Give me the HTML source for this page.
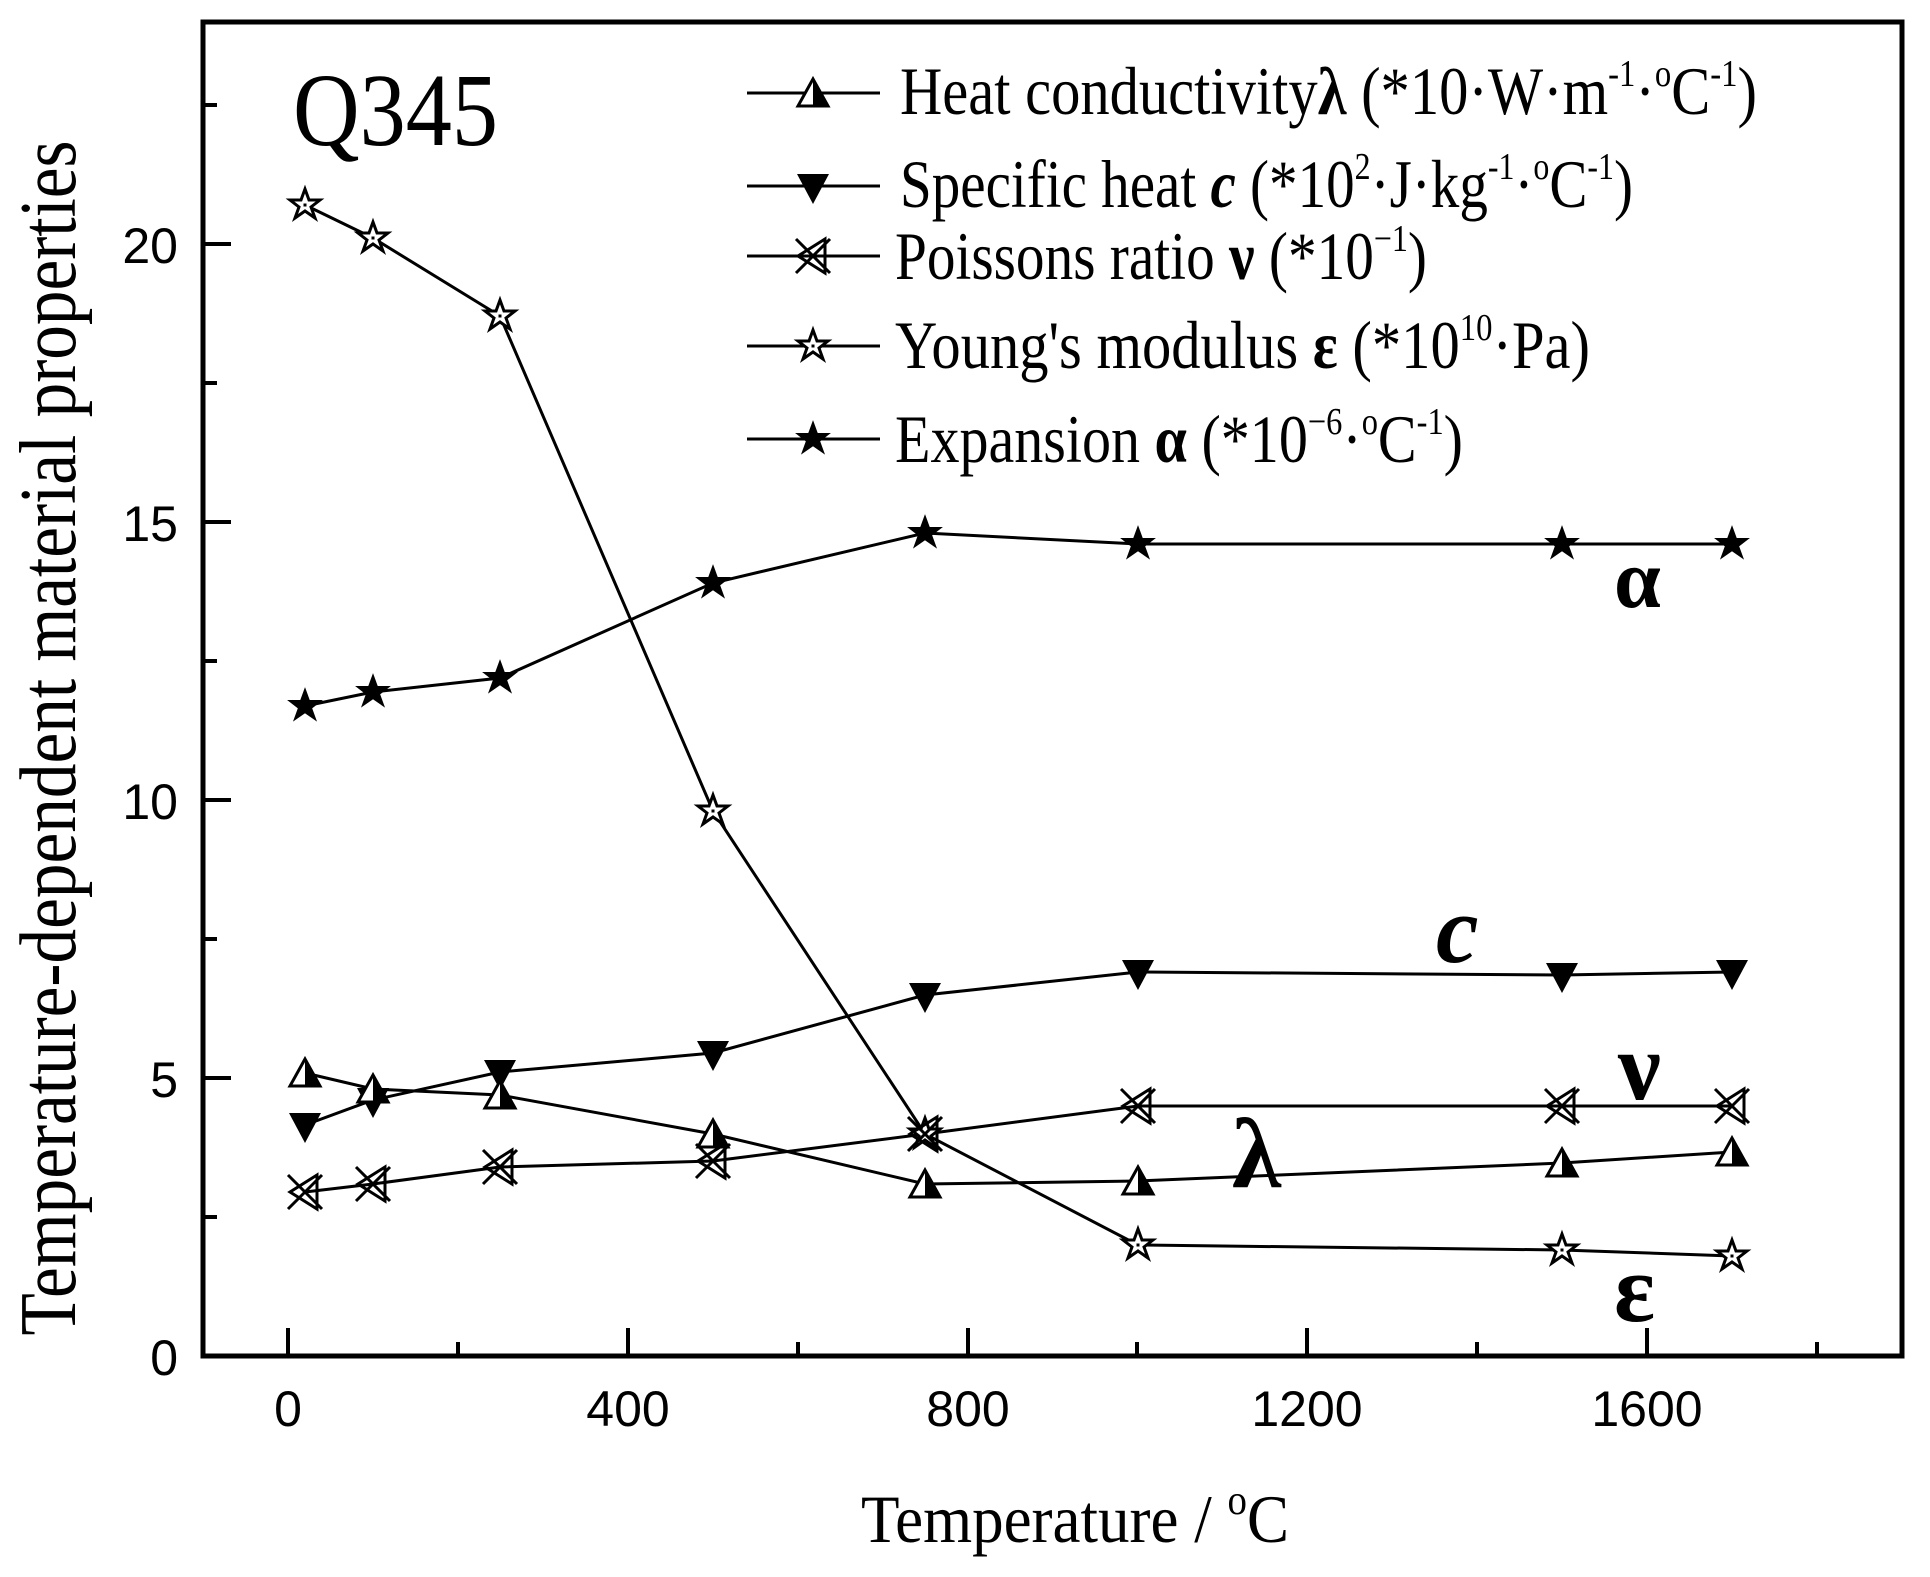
<!DOCTYPE html>
<html><head><meta charset="utf-8"><style>html,body{margin:0;padding:0;background:#fff}svg{display:block}</style></head>
<body>
<svg width="1930" height="1577" viewBox="0 0 1930 1577" xmlns="http://www.w3.org/2000/svg" font-family="'Liberation Serif', serif">
<defs>
<g id="tri"><polygon points="0,-14 -15,13 15,13" fill="#fff" stroke="#000" stroke-width="3"/><polygon points="0,-14 0,13 15,13" fill="#000"/></g>
<g id="dtri"><polygon points="-16,-15 16,-15 0,15" fill="#000"/></g>
<g id="xm"><path d="M-17,-17 L17,17 M-17,17 L17,-17 M12,-17 L-15,0 L12,17 Z" fill="none" stroke="#000" stroke-width="3"/></g>
<g id="ost"><polygon points="0,-16 4,-5 15,-5 6,2 10,13 0,6 -10,13 -6,2 -15,-5 -4,-5" fill="#fff" stroke="#000" stroke-width="3" stroke-linejoin="miter"/><rect x="-1.5" y="-1.5" width="3" height="3" fill="#000"/></g>
<g id="fst"><polygon points="0,-16 4,-5 15,-5 6,2 10,13 0,6 -10,13 -6,2 -15,-5 -4,-5" fill="#000" stroke="#000" stroke-width="2"/></g>
</defs>
<rect x="203" y="22" width="1699" height="1334" fill="none" stroke="#000" stroke-width="5"/>
<g stroke="#000" stroke-width="4">
<line x1="203" y1="1356" x2="231" y2="1356"/><line x1="203" y1="1217" x2="217" y2="1217"/>
<line x1="203" y1="1078" x2="231" y2="1078"/><line x1="203" y1="939" x2="217" y2="939"/>
<line x1="203" y1="800" x2="231" y2="800"/><line x1="203" y1="661" x2="217" y2="661"/>
<line x1="203" y1="522" x2="231" y2="522"/><line x1="203" y1="383" x2="217" y2="383"/>
<line x1="203" y1="244" x2="231" y2="244"/><line x1="203" y1="105" x2="217" y2="105"/>
<line x1="288" y1="1356" x2="288" y2="1328"/><line x1="458" y1="1356" x2="458" y2="1342"/>
<line x1="628" y1="1356" x2="628" y2="1328"/><line x1="798" y1="1356" x2="798" y2="1342"/>
<line x1="968" y1="1356" x2="968" y2="1328"/><line x1="1137" y1="1356" x2="1137" y2="1342"/>
<line x1="1307" y1="1356" x2="1307" y2="1328"/><line x1="1477" y1="1356" x2="1477" y2="1342"/>
<line x1="1647" y1="1356" x2="1647" y2="1328"/><line x1="1817" y1="1356" x2="1817" y2="1342"/>
</g>
<g font-family="'Liberation Sans', sans-serif" font-size="50" fill="#000">
<g text-anchor="end">
<text x="178" y="1375">0</text><text x="178" y="1097">5</text><text x="178" y="819">10</text><text x="178" y="541">15</text><text x="178" y="263">20</text>
</g>
<g text-anchor="middle">
<text x="288" y="1426">0</text><text x="628" y="1426">400</text><text x="968" y="1426">800</text><text x="1307" y="1426">1200</text><text x="1647" y="1426">1600</text>
</g>
</g>
<text transform="translate(75,738) rotate(-90)" text-anchor="middle" font-size="80" textLength="1195" lengthAdjust="spacingAndGlyphs">Temperature-dependent material properties</text>
<text x="861" y="1542" font-size="68" textLength="428" lengthAdjust="spacingAndGlyphs">Temperature / <tspan font-size="42" dy="-28">o</tspan><tspan dy="28">C</tspan></text>
<text x="293" y="145" font-size="104" textLength="205" lengthAdjust="spacingAndGlyphs">Q345</text>

<g fill="none" stroke="#000" stroke-width="3">
<polyline points="305,205 373,238 500,316 713,811 925,1134 1138,1245 1562,1250 1732,1256"/>
<polyline points="305,706 373,692 500,678 713,583 925,533 1138,544 1562,544 1732,544"/>
<polyline points="305,1125 373,1100 500,1072 713,1053 925,995 1138,972 1562,975 1732,972"/>
<polyline points="305,1192 373,1184 500,1167 713,1161 925,1134 1138,1106 1562,1106 1732,1106"/>
<polyline points="305,1073 373,1089 500,1095 713,1134 925,1184 1138,1181 1562,1163 1732,1152"/>
</g>
<g>
<use href="#ost" x="305" y="205"/><use href="#ost" x="373" y="238"/><use href="#ost" x="500" y="316"/><use href="#ost" x="713" y="811"/><use href="#ost" x="925" y="1134"/><use href="#ost" x="1138" y="1245"/><use href="#ost" x="1562" y="1250"/><use href="#ost" x="1732" y="1256"/>
<use href="#fst" x="305" y="706"/><use href="#fst" x="373" y="692"/><use href="#fst" x="500" y="678"/><use href="#fst" x="713" y="583"/><use href="#fst" x="925" y="533"/><use href="#fst" x="1138" y="544"/><use href="#fst" x="1562" y="544"/><use href="#fst" x="1732" y="544"/>
<use href="#dtri" x="305" y="1128"/><use href="#dtri" x="373" y="1103"/><use href="#dtri" x="500" y="1075"/><use href="#dtri" x="713" y="1056"/><use href="#dtri" x="925" y="998"/><use href="#dtri" x="1138" y="975"/><use href="#dtri" x="1562" y="978"/><use href="#dtri" x="1732" y="975"/>
<use href="#xm" x="305" y="1192"/><use href="#xm" x="373" y="1184"/><use href="#xm" x="500" y="1167"/><use href="#xm" x="713" y="1161"/><use href="#xm" x="925" y="1134"/><use href="#xm" x="1138" y="1106"/><use href="#xm" x="1562" y="1106"/><use href="#xm" x="1732" y="1106"/>
<use href="#tri" x="305" y="1073"/><use href="#tri" x="373" y="1089"/><use href="#tri" x="500" y="1095"/><use href="#tri" x="713" y="1134"/><use href="#tri" x="925" y="1184"/><use href="#tri" x="1138" y="1181"/><use href="#tri" x="1562" y="1163"/><use href="#tri" x="1732" y="1152"/>
</g>
<g font-weight="bold">
<text x="1614" y="607" font-size="84">α</text>
<text x="1436" y="962" font-size="96" font-style="italic">c</text>
<text x="1618" y="1099" font-size="96">ν</text>
<text x="1232" y="1187" font-size="100">λ</text>
<text x="1614" y="1321" font-size="96">ε</text>
</g>
<g stroke="#000" stroke-width="3">
<line x1="747" y1="93" x2="880" y2="93"/><line x1="747" y1="186" x2="880" y2="186"/><line x1="747" y1="256" x2="880" y2="256"/><line x1="747" y1="346" x2="880" y2="346"/><line x1="747" y1="439" x2="880" y2="439"/>
</g>
<use href="#tri" x="813" y="93"/><use href="#dtri" x="813" y="189"/><use href="#xm" x="813" y="256"/><use href="#ost" x="813" y="346"/><use href="#fst" x="813" y="439"/>
<g font-size="68">
<text x="900" y="114" textLength="857" lengthAdjust="spacingAndGlyphs">Heat conductivity<tspan font-weight="bold">λ</tspan>  (*10·W·m<tspan font-size="38" dy="-28">-1</tspan><tspan dy="28">·</tspan><tspan font-size="38" dy="-28">o</tspan><tspan dy="28">C</tspan><tspan font-size="38" dy="-28">-1</tspan><tspan dy="28">)</tspan></text>
<text x="900" y="207" textLength="733" lengthAdjust="spacingAndGlyphs">Specific heat <tspan font-weight="bold" font-style="italic">c</tspan> (*10<tspan font-size="38" dy="-28">2</tspan><tspan dy="28">·J·kg</tspan><tspan font-size="38" dy="-28">-1</tspan><tspan dy="28">·</tspan><tspan font-size="38" dy="-28">o</tspan><tspan dy="28">C</tspan><tspan font-size="38" dy="-28">-1</tspan><tspan dy="28">)</tspan></text>
<text x="895" y="279" textLength="532" lengthAdjust="spacingAndGlyphs">Poissons ratio <tspan font-weight="bold">ν</tspan> (*10<tspan font-size="38" dy="-28">−1</tspan><tspan dy="28">)</tspan></text>
<text x="895" y="368" textLength="695" lengthAdjust="spacingAndGlyphs">Young's modulus <tspan font-weight="bold">ε</tspan> (*10<tspan font-size="38" dy="-28">10</tspan><tspan dy="28">·Pa)</tspan></text>
<text x="895" y="462" textLength="568" lengthAdjust="spacingAndGlyphs">Expansion <tspan font-weight="bold">α</tspan>  (*10<tspan font-size="38" dy="-28">−6</tspan><tspan dy="28">·</tspan><tspan font-size="38" dy="-28">o</tspan><tspan dy="28">C</tspan><tspan font-size="38" dy="-28">-1</tspan><tspan dy="28">)</tspan></text>
</g>
</svg>
</body></html>
